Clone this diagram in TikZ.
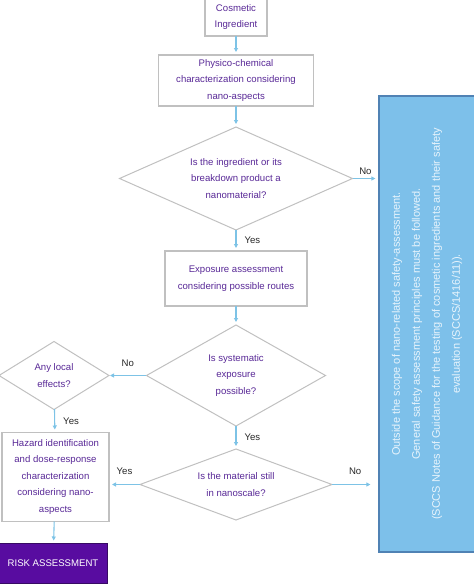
\documentclass[tikz,border=0pt]{standalone}
\usepackage{fontspec}
\setmainfont{Liberation Sans}
\usetikzlibrary{arrows.meta,positioning,calc}
\usetikzlibrary{shapes}

\definecolor{txtpurple}{RGB}{88,40,150}
\definecolor{boxgray}{RGB}{192,192,192}
\definecolor{arrowblue}{RGB}{125,195,230}
\definecolor{labgray}{RGB}{40,40,40}
\definecolor{scopefill}{RGB}{125,192,234}
\definecolor{scopeline}{RGB}{80,130,180}
\definecolor{scopetext}{RGB}{232,244,252}
\definecolor{riskfill}{RGB}{88,12,160}
\definecolor{riskline}{RGB}{55,10,100}

\begin{document}
\begin{tikzpicture}[x=1pt,y=-1pt,
    procbox/.style={draw=boxgray,line width=1.2pt,rectangle,align=center,text=txtpurple,
      font=\fontsize{9.6}{16.5}\selectfont,inner sep=0pt,outer sep=0pt},
    decision/.style={draw=boxgray,line width=1pt,diamond,align=center,text=txtpurple,
      font=\fontsize{9.6}{16.5}\selectfont,inner sep=0pt,outer sep=0pt},
    flow/.style={draw=arrowblue,line width=1.1pt,-{Triangle[length=4pt,width=4pt]},shorten >=3pt},
    lab/.style={text=labgray,font=\fontsize{9.6}{11}\selectfont,inner sep=0pt}]

      \useasboundingbox (0,0) rectangle (474,584);

      % main column
      \node[procbox,minimum width = 62pt,minimum height = 38pt] at (236,17) (cosm) {Cosmetic\\Ingredient};
      \node[procbox,minimum width = 155pt,minimum height = 51pt,below = 19pt of cosm] (phys)
        {Physico-chemical\\characterization considering\\nano-aspects};
      \node[decision,shape aspect = 2.26,minimum width = 233pt,minimum height = 103pt,below = 21pt of phys] (nano)
        {Is the ingredient or its\\breakdown product a\\nanomaterial?};
      \node[procbox,minimum width = 142pt,minimum height = 55pt,below = 21pt of nano] (expo)
        {Exposure assessment\\considering possible routes};
      \node[decision,shape aspect = 1.77,minimum width = 179pt,minimum height = 101pt,below = 19pt of expo] (syst)
        {Is systematic\\exposure\\possible?};
      \node[decision,shape aspect = 2.7,minimum width = 192pt,minimum height = 71pt,below = 23pt of syst] (scale)
        {Is the material still\\in nanoscale?};

      % left column
      \node[decision,shape aspect = 1.6,minimum width = 110pt,minimum height = 68pt,left = 37.5pt of syst] (local)
        {Any local\\effects?};
      \node[procbox,minimum width = 107pt,minimum height = 89pt,below = 23pt of local,xshift=1.5pt] (haz)
        {Hazard identification\\and dose-response\\characterization\\considering nano-\\aspects};
      \node[draw=riskline,fill=riskfill,line width=1pt,rectangle,text=white,font=\fontsize{9.6}{11}\selectfont,
        outer sep=0pt,minimum width = 108pt,minimum height = 40pt,below = 22pt of haz,xshift=-2.5pt] (risk) {RISK ASSESSMENT};

      % scope box
      \node[draw=scopeline,fill=scopefill,line width=1.2pt,rectangle,rotate=90,align=center,text=scopetext,
        font=\fontsize{11}{20}\selectfont,minimum width = 456pt,minimum height = 96pt] at (427,324) (scope)
        {Outside the scope of nano-related safety-assessment.\\
         General safety assessment principles must be followed.\\
         (SCCS Notes of Guidance for the testing of cosmetic ingredients and their safety\\
         evaluation (SCCS/1416/11)).};

      % connectors
      \draw[flow] (cosm) -- (phys);
      \draw[flow] (phys) -- (nano);
      \draw[flow] (nano) -- node[lab,right = 8pt,midway] {Yes} (expo);
      \draw[flow] (nano.east) -- node[lab,above = 3.5pt,midway] {No} (nano.east -| scope.north);
      \draw[flow] (expo) -- (syst);
      \draw[flow,shorten >=1pt] (syst) -- node[lab,above = 8.5pt,midway] {No} (local);
      \draw[flow] (local) -- node[lab,right = 8pt,midway] {Yes} (haz);
      \draw[flow] (syst) -- node[lab,right = 8pt,midway] {Yes} (scale);
      \draw[flow] (scale.west) -- node[lab,above = 9.5pt,midway] {Yes} (scale.west -| haz.east);
      \draw[flow,shorten >=8pt] (scale.east) -- node[lab,above = 9.5pt,midway] {No} (scale.east -| scope.north);
      \draw[flow] (haz) -- (risk);

    \end{tikzpicture}
\end{document}
